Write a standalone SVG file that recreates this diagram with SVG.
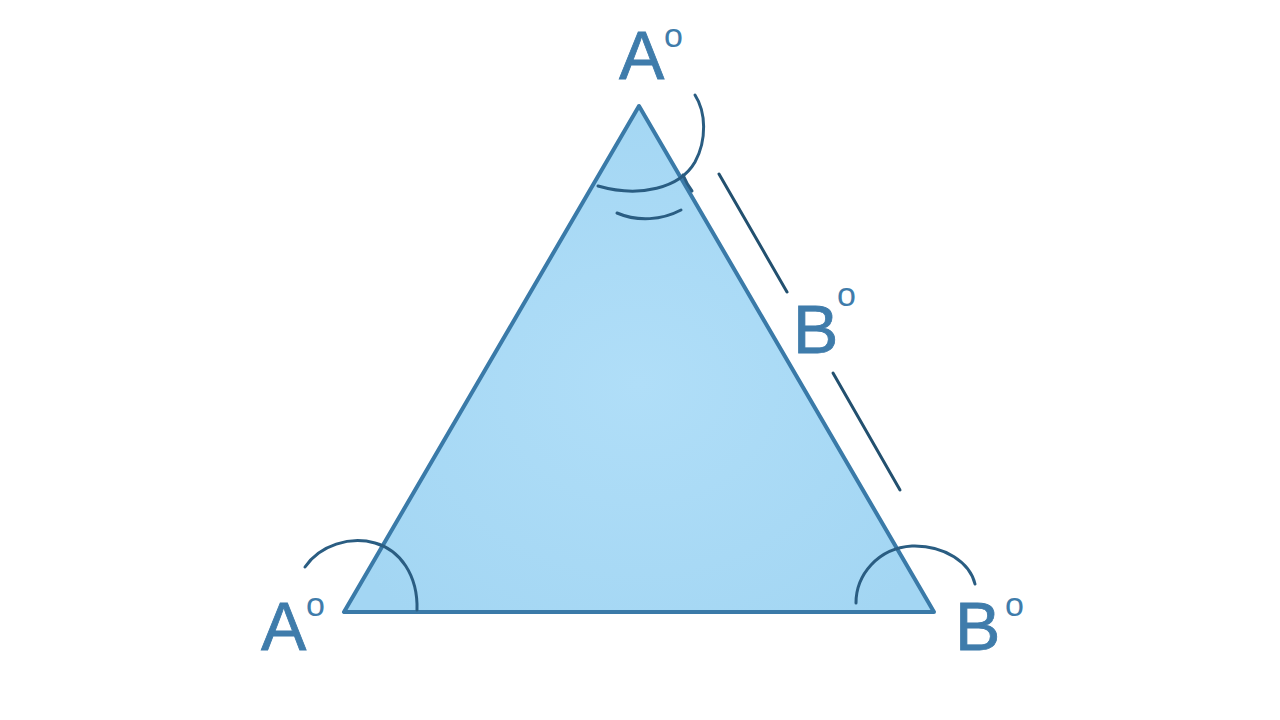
<svg xmlns="http://www.w3.org/2000/svg" width="1280" height="720" viewBox="0 0 1280 720">
<defs>
<radialGradient id="fill" cx="50%" cy="55%" r="60%">
<stop offset="0" stop-color="#b0def8"/>
<stop offset="1" stop-color="#a3d6f3"/>
</radialGradient>
<style>
.lbl{font-family:"Liberation Sans",Arial,sans-serif;fill:#3f7cab;stroke:#3f7cab;stroke-width:0.8px;font-size:68px}
.sup{font-family:"Liberation Sans",Arial,sans-serif;fill:#3f7cab;font-size:34px}
.arc{fill:none;stroke:#2a5d82;stroke-width:3;stroke-linecap:round}
.tick{fill:none;stroke:#22506f;stroke-width:3;stroke-linecap:round}
</style>
</defs>
<rect width="1280" height="720" fill="#ffffff"/>
<g id="triangle">
<polygon points="639,106 344,612 934,612" fill="url(#fill)" stroke="#3a7aa8" stroke-width="4" stroke-linejoin="round"/>
</g>
<g id="connectors">
<path class="arc" d="M695,95 C706,112 707,140 695,162 C680,188 640,198 598,186"/>
<path class="arc" d="M683,175 C686,182 689,187 692,191"/>
<path class="arc" d="M617,213 C638,222 662,220 681,210"/>
<path class="arc" d="M305,567 C320,545 350,536 375,543 C400,550 418,575 417,610"/>
<path class="arc" d="M856,603 C856,575 878,548 912,546 C945,545 970,563 975,584"/>
<line class="tick" x1="719" y1="174" x2="787" y2="292"/>
<line class="tick" x1="833" y1="373" x2="900" y2="490"/>
</g>
<g id="label-top">
<text class="lbl" x="619" y="79">A</text>
<text class="sup" x="664" y="47">o</text>
</g>
<g id="label-bl">
<text class="lbl" x="261" y="650">A</text>
<text class="sup" x="306" y="616">o</text>
</g>
<g id="label-br">
<text class="lbl" x="955" y="650">B</text>
<text class="sup" x="1005" y="616">o</text>
</g>
<g id="label-side">
<text class="lbl" x="793" y="353">B</text>
<text class="sup" x="837" y="306">o</text>
</g>
</svg>
